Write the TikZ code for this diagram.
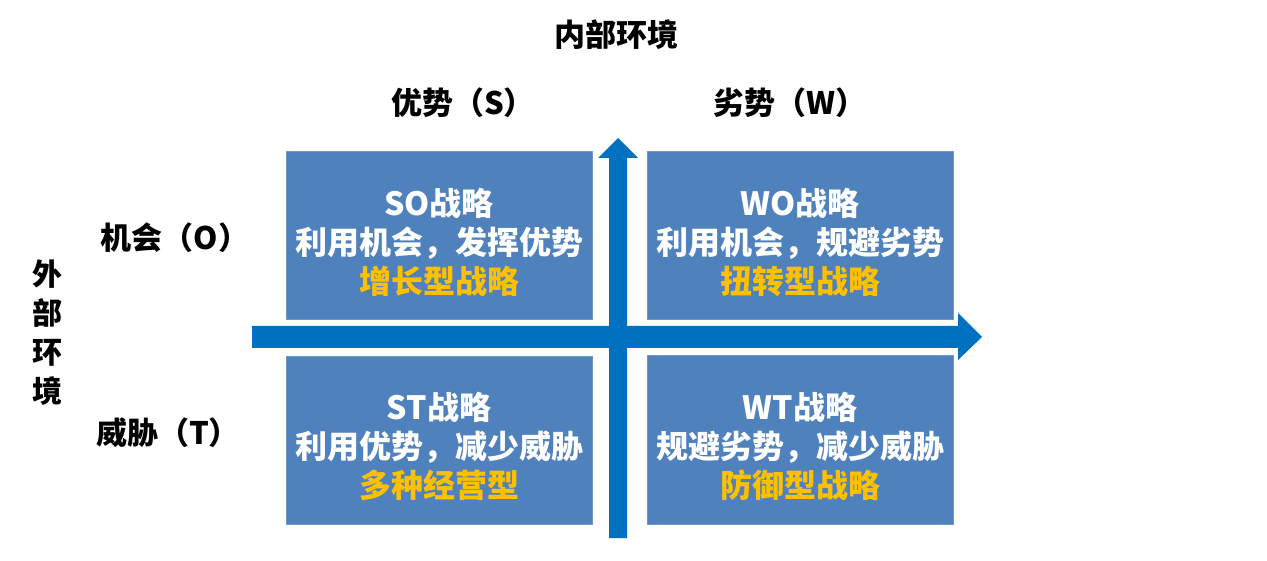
\documentclass[tikz,border=0pt]{standalone}
\usepackage{fontspec}
\setmainfont{Noto Sans CJK SC}
\begin{document}
\begin{tikzpicture}[x=1pt,y=-1pt,
  quad/.style={rectangle,fill=boxblue,draw=boxedge,line width=1pt,minimum width=306pt,minimum height=168pt,inner sep=0pt},
  qtext/.style={align=center,text=white,font=\bfseries\fontsize{32}{39}\selectfont,inner sep=0pt},
  lbl/.style={font=\bfseries\fontsize{31}{36}\selectfont,text=black,inner sep=0pt},
  axis/.style={fill=arrowblue,draw=none}]
\definecolor{boxblue}{HTML}{4F81BD}
\definecolor{boxedge}{HTML}{6E98CC}
\definecolor{arrowblue}{HTML}{0070C0}
\definecolor{gold}{HTML}{FFC000}
\useasboundingbox[fill=white] (0,0) rectangle (1267,561);

% quadrant boxes
\node[quad] (so) at (439,236) {};
\node[quad] (wo) at (800,236) {};
\node[quad] (st) at (439,440.5) {};
\node[quad] (wt) at (800,440) {};

% arrows (axes)
\fill[axis] (609,538) -- (609,158) -- (598,158) -- (618,138) -- (638,158) -- (627,158) -- (627,538) -- cycle;
\fill[axis] (252,326) -- (958,326) -- (958,313) -- (982,337) -- (958,360) -- (958,348) -- (252,348) -- cycle;

% box texts
\node[qtext] (sot) at (439,242) {SO战略\\利用机会，发挥优势\\\textcolor{gold}{增长型战略}};
\node[qtext] (wot) at (800,242) {WO战略\\利用机会，规避劣势\\\textcolor{gold}{扭转型战略}};
\node[qtext] (stt) at (439,446) {ST战略\\利用优势，减少威胁\\\textcolor{gold}{多种经营型}};
\node[qtext] (wtt) at (800,446) {WT战略\\规避劣势，减少威胁\\\textcolor{gold}{防御型战略}};

% labels
\node[lbl] (inner) at (616,35) {内部环境};
\node[lbl] (s) at (463,103) {优势（S）};
\node[lbl] (w) at (790,103) {劣势（W）};
\node[lbl] (o) at (175,238) {机会（O）};
\node[lbl] (t) at (168,433) {威胁（T）};
\node[lbl,align=center,font=\bfseries\fontsize{30}{39}\selectfont] (outer) at (47,333) {外\\部\\环\\境};
\end{tikzpicture}
\end{document}
